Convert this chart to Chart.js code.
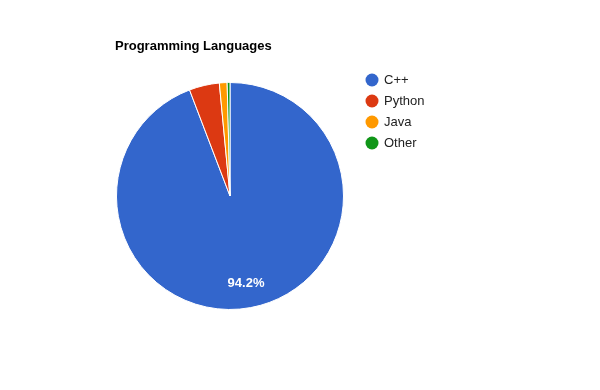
<!DOCTYPE html>
<html>
<head>
<meta charset="utf-8">
<script src="https://cdn.jsdelivr.net/npm/chart.js@4.4.1/dist/chart.umd.min.js"></script>
<style>
  html, body { margin: 0; padding: 0; background: #fff; }
  #wrap { width: 600px; height: 390px; position: relative; }
</style>
</head>
<body>
<div id="wrap"><canvas id="myChart" width="600" height="390"></canvas></div>
<script>
// data
var languages = ["C++", "Python", "Java", "Other"];
var shares = [94.2, 4.3, 1.1, 0.4];
var sliceColors = ["#3366cc", "#dc3912", "#ff9900", "#109618"];
var chartTitle = "Programming Languages";

// title, legend and slice labels drawn google-style
var extrasPlugin = {
  id: "extras",
  afterDraw: function(chart) {
    var ctx = chart.ctx;
    ctx.save();
    ctx.fillStyle = "#000";
    ctx.font = "bold 13px 'Liberation Sans', Arial, sans-serif";
    ctx.textBaseline = "middle";
    ctx.textAlign = "left";
    ctx.fillText(chartTitle, 115, 46);

    ctx.font = "13px 'Liberation Sans', Arial, sans-serif";
    for (var i = 0; i < languages.length; i++) {
      var y = 80 + i * 21;
      ctx.beginPath();
      ctx.arc(372, y, 6.5, 0, Math.PI * 2);
      ctx.fillStyle = sliceColors[i];
      ctx.fill();
      ctx.fillStyle = "#222";
      ctx.fillText(languages[i], 384, y);
    }

    var total = shares.reduce(function(a, b) { return a + b; }, 0);
    var meta = chart.getDatasetMeta(0);
    ctx.font = "bold 13px 'Liberation Sans', Arial, sans-serif";
    ctx.fillStyle = "#fff";
    ctx.textAlign = "center";
    meta.data.forEach(function(arc, i) {
      if (shares[i] / total < 0.05) return;
      var p = arc.getProps(["x", "y", "startAngle", "endAngle", "outerRadius"], true);
      var mid = (p.startAngle + p.endAngle) / 2;
      var r = p.outerRadius * 0.78;
      ctx.fillText(shares[i].toFixed(1) + "%", p.x + Math.cos(mid) * r, p.y + Math.sin(mid) * r);
    });
    ctx.restore();
  }
};

new Chart("myChart", {
  type: "pie",
  data: {
    labels: languages,
    datasets: [{
      data: shares,
      backgroundColor: sliceColors,
      borderColor: "#fff",
      borderWidth: 1
    }]
  },
  options: {
    responsive: false,
    animation: false,
    layout: { padding: { left: 116, right: 256, top: 82, bottom: 80 } },
    plugins: {
      legend: { display: false },
      title: { display: false },
      tooltip: { enabled: false }
    }
  },
  plugins: [extrasPlugin]
});
</script>
</body>
</html>
